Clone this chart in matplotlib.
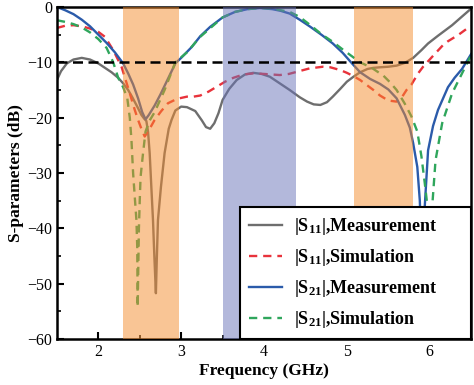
import numpy as np
import matplotlib
matplotlib.use("Agg")
import matplotlib.pyplot as plt

plt.rcParams['font.family'] = ['Liberation Serif', 'DejaVu Serif']
plt.rcParams['mathtext.fontset'] = 'custom'
plt.rcParams['mathtext.rm'] = 'Liberation Serif:bold'
plt.rcParams['mathtext.bf'] = 'Liberation Serif:bold'
plt.rcParams['mathtext.it'] = 'Liberation Serif:bold'

# |S11| measurement
s11m_f = [1.50, 1.55, 1.62, 1.70, 1.80, 1.90, 2.00, 2.08, 2.16, 2.24, 2.30, 2.36, 2.41, 2.47,
          2.52, 2.555, 2.58, 2.60, 2.62, 2.64, 2.66, 2.675, 2.695, 2.705, 2.72, 2.756, 2.80,
          2.85, 2.884, 2.93, 3.00, 3.07, 3.17, 3.25, 3.30, 3.35, 3.40, 3.45, 3.50, 3.58, 3.67,
          3.77, 3.87, 3.97, 4.07, 4.19, 4.31, 4.43, 4.52, 4.60, 4.68, 4.76, 4.83, 4.92, 5.00,
          5.08, 5.16, 5.25, 5.32, 5.40, 5.50, 5.60, 5.70, 5.80, 5.90, 5.98, 6.10, 6.27, 6.40, 6.50]
s11m_db = [-13.2, -11.6, -10.2, -9.5, -9.2, -9.5, -10.2, -11.0, -11.8, -12.8, -13.8, -15.0, -16.3, -18.0,
           -19.5, -20.2, -20.6, -22.5, -26.4, -32.5, -38.5, -44.5, -51.7, -46.0, -38.5, -32.5, -26.4,
           -22.0, -20.4, -18.7, -18.0, -18.1, -18.8, -20.5, -21.7, -22.0, -21.0, -19.2, -16.8, -14.8, -13.2,
           -12.2, -11.9, -12.1, -12.6, -13.8, -15.0, -16.3, -17.1, -17.6, -17.7, -17.2, -16.2, -14.8, -13.5,
           -12.6, -11.8, -11.2, -11.0, -10.9, -10.8, -10.6, -10.1, -9.2, -7.8, -6.6, -5.2, -3.3, -1.6, -0.3]

# |S11| simulation
s11s_f = [1.50, 1.60, 1.70, 1.80, 1.90, 2.00, 2.08, 2.18, 2.28, 2.38, 2.44, 2.48, 2.52, 2.56,
          2.62, 2.68, 2.76, 2.84, 2.95, 3.07, 3.15, 3.23, 3.33, 3.43, 3.53, 3.63, 3.75, 3.87,
          4.00, 4.19, 4.30, 4.40, 4.55, 4.71, 4.80, 4.92, 5.00, 5.08, 5.16, 5.24, 5.32, 5.40,
          5.50, 5.60, 5.66, 5.72, 5.78, 5.86, 5.92, 6.03, 6.16, 6.22, 6.35, 6.46, 6.50]
s11s_db = [-3.8, -3.4, -3.3, -3.5, -3.9, -4.5, -5.4, -7.8, -10.8, -15.6, -18.6, -20.4, -22.0, -23.4,
           -22.0, -20.4, -18.8, -17.4, -16.6, -16.2, -16.2, -16.0, -15.3, -14.4, -13.5, -12.8, -12.2, -12.0,
           -12.1, -12.3, -12.1, -11.7, -11.1, -10.8, -10.9, -11.4, -11.9, -12.5, -13.2, -14.1, -15.0, -16.0,
           -16.9, -17.1, -16.4, -15.0, -14.0, -12.0, -10.8, -9.0, -6.9, -6.2, -5.0, -3.8, -3.5]

# |S21| measurement
s21m_f = [1.50, 1.60, 1.70, 1.80, 1.90, 2.00, 2.10, 2.20, 2.30, 2.36, 2.42, 2.48, 2.53, 2.57,
          2.61, 2.68, 2.75, 2.84, 2.93, 3.00, 3.13, 3.23, 3.35, 3.50, 3.65, 3.80, 3.95, 4.10,
          4.20, 4.31, 4.43, 4.56, 4.70, 4.83, 4.95, 5.05, 5.16, 5.28, 5.40, 5.50, 5.60, 5.70,
          5.76, 5.80, 5.85, 5.88, 5.91, 5.94, 5.98, 6.04, 6.10, 6.22, 6.30, 6.39, 6.50]
s21m_db = [0.0, -0.6, -1.3, -2.3, -3.5, -5.0, -6.5, -8.2, -10.2, -12.0, -14.0, -16.5, -19.0, -20.3,
           -19.5, -17.8, -15.8, -13.0, -10.2, -9.2, -7.2, -5.3, -3.6, -1.9, -0.9, -0.4, -0.2, -0.4,
           -0.7, -1.2, -2.3, -3.6, -5.1, -6.6, -8.3, -10.0, -11.8, -13.0, -13.9, -14.9, -16.5, -19.5,
           -21.8, -24.6, -28.9, -34.9, -47.0, -36.0, -25.9, -21.5, -18.6, -14.5, -12.8, -11.2, -8.5]

# |S21| simulation
s21s_f = [1.50, 1.60, 1.70, 1.80, 1.90, 2.00, 2.10, 2.18, 2.24, 2.30, 2.35, 2.38, 2.40, 2.42,
          2.44, 2.46, 2.47, 2.475, 2.49, 2.50, 2.51, 2.54, 2.57, 2.62, 2.68, 2.80, 2.93, 3.07,
          3.23, 3.50, 3.65, 3.80, 3.95, 4.10, 4.31, 4.43, 4.56, 4.70, 4.83, 4.96, 5.06, 5.16,
          5.30, 5.44, 5.52, 5.60, 5.70, 5.78, 5.85, 5.90, 5.94, 5.98, 6.005, 6.03, 6.07, 6.15,
          6.27, 6.39, 6.50]
s21s_db = [-2.4, -2.7, -3.1, -3.7, -4.6, -5.8, -7.4, -10.0, -12.8, -14.5, -16.5, -20.0, -24.0, -30.0,
           -34.3, -38.5, -43.4, -54.2, -40.0, -35.0, -30.7, -26.4, -22.5, -20.5, -19.0, -15.0, -10.0, -8.2,
           -5.4, -1.9, -0.9, -0.4, -0.2, -0.3, -0.9, -1.8, -3.3, -5.0, -6.3, -7.8, -8.9, -10.0,
           -11.0, -12.4, -13.6, -15.0, -17.5, -19.8, -22.5, -27.0, -31.8, -37.0, -47.0, -36.0, -27.7, -21.0,
           -15.6, -12.0, -8.7]

bands = [(2.30, 2.97), (3.50, 4.38), (5.08, 5.80)]
band_colors = ['#F58C2D', '#6973B9', '#F58C2D']

fig = plt.figure(figsize=(4.74, 3.85), dpi=100)
ax = fig.add_axes([0.120, 0.119, 0.874, 0.863])

ax.plot(s11m_f, s11m_db, color='#6E6E6E', lw=1.7, label=r'|S$_{11}$|,Measurement', zorder=2)
ax.plot(s11s_f, s11s_db, color='#E8333C', lw=1.7, ls=(0, (3.5, 2.5)),
        label=r'|S$_{11}$|,Simulation', zorder=2)
ax.plot(s21m_f, s21m_db, color='#2B5BAA', lw=1.7, label=r'|S$_{21}$|,Measurement', zorder=2)
ax.plot(s21s_f, s21s_db, color='#2FA65C', lw=1.7, ls=(0, (3.5, 2.5)),
        label=r'|S$_{21}$|,Simulation', zorder=2)

for (f0, f1), c in zip(bands, band_colors):
    ax.axvspan(f0, f1, color=c, alpha=0.5, lw=0, zorder=3)

ax.axhline(-10, color='black', lw=1.8, ls=(0, (4, 2.2)), zorder=4)

ax.set_xlim(1.5, 6.5)
ax.set_ylim(-60, 0)
ax.set_xticks([2, 3, 4, 5, 6])
ax.set_xticks([2.5, 3.5, 4.5, 5.5], minor=True)
ax.set_yticks(np.arange(-60, 1, 10))
ax.set_yticks(np.arange(-55, 0, 10), minor=True)
ax.tick_params(which='major', direction='in', length=5, width=1.5, labelsize=11.5)
ax.tick_params(which='minor', direction='in', length=3, width=1.2)
for sp in ax.spines.values():
    sp.set_linewidth(1.8)

ax.set_xlabel('Frequency (GHz)', fontsize=12.5, fontweight='bold', labelpad=2)
ax.set_ylabel('S-parameters (dB)', fontsize=12.5, fontweight='bold', labelpad=2)

# legend box spans from about x=3.7 GHz to the right spine
leg = ax.legend(loc='lower left', bbox_to_anchor=(0.442, 0, 0.558, 0.4), mode='expand',
                borderaxespad=0, fancybox=False, framealpha=1, edgecolor='black',
                prop={'weight': 'bold', 'size': 13}, handlelength=1.8,
                handletextpad=0.7, labelspacing=0.55, borderpad=0.5)
leg.get_frame().set_linewidth(1.5)
leg.set_zorder(6)

fig.savefig('out.png', dpi=100)
